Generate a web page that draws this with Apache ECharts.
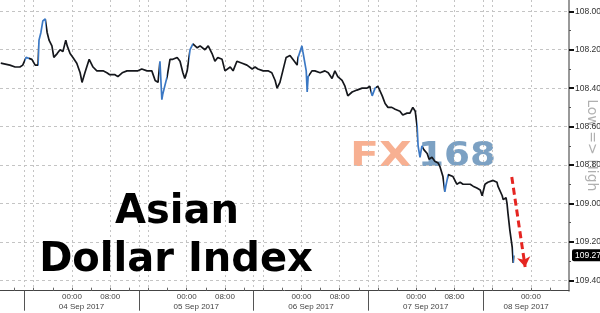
<!DOCTYPE html>
<html>
<head>
<meta charset="utf-8">
<script src="https://cdn.jsdelivr.net/npm/echarts@6/dist/echarts.min.js"></script>
<style>
html,body{margin:0;padding:0;background:#fff;}
#chart{width:600px;height:313px;}
</style>
</head>
<body>
<div id="chart"></div>
<script>
// Hours since 04 Sep 2017 00:00 (label time)
const hours = [-14.9,-13.0,-11.9,-10.9,-10.3,-9.6,-9.2,-8.4,-8.2,-7.7,-7.1,-6.9,-6.5,-6.1,-5.6,-5.2,-4.8,-4.2,-3.8,-3.1,-2.5,-1.9,-1.3,-1.0,-0.4,0.2,1.0,1.7,2.1,2.7,3.6,4.4,5.2,5.9,6.5,7.3,7.9,9.0,9.6,10.5,11.5,12.8,13.8,14.6,15.7,16.7,17.4,18.0,18.4,18.8,19.0,19.9,20.5,21.1,22.0,22.6,23.2,23.6,24.1,24.7,25.3,26.2,26.8,27.8,28.5,29.3,29.9,30.5,31.4,32.0,33.1,33.7,34.5,35.6,36.6,37.7,38.3,38.9,40.0,41.0,41.8,42.5,42.9,43.5,44.1,44.8,45.6,46.2,47.1,47.3,48.1,48.3,49.0,49.2,49.4,50.2,50.8,51.9,52.9,53.6,54.4,55.0,55.6,56.5,57.1,57.7,58.6,59.6,60.7,61.7,62.3,62.8,63.4,64.0,64.9,65.5,66.1,66.9,67.6,68.6,69.2,70.1,70.7,71.3,71.8,72.2,72.4,72.8,73.2,73.6,74.3,74.7,75.3,75.9,76.6,77.0,77.6,78.0,78.2,78.7,79.1,79.7,80.5,81.2,81.8,82.6,83.3,83.9,84.7,85.4,85.8,86.0,86.4,87.0,88.1,88.9,89.1,90.0,90.2,90.8,91.0,91.2,91.6,92.1,92.3,92.4];
const indexValues = [108.27,108.28,108.29,108.29,108.28,108.24,108.23,108.25,108.26,108.28,108.28,108.15,108.11,108.05,108.04,108.11,108.15,108.18,108.24,108.22,108.20,108.21,108.15,108.18,108.22,108.24,108.27,108.32,108.37,108.32,108.25,108.29,108.31,108.31,108.31,108.32,108.33,108.33,108.34,108.32,108.31,108.31,108.31,108.30,108.31,108.31,108.36,108.37,108.26,108.46,108.43,108.34,108.25,108.25,108.24,108.26,108.32,108.35,108.31,108.20,108.17,108.19,108.18,108.20,108.18,108.22,108.26,108.24,108.25,108.31,108.29,108.31,108.26,108.27,108.28,108.30,108.29,108.30,108.31,108.31,108.32,108.36,108.40,108.37,108.31,108.24,108.23,108.25,108.28,108.24,108.18,108.21,108.31,108.42,108.34,108.31,108.31,108.32,108.31,108.32,108.35,108.31,108.34,108.36,108.39,108.44,108.42,108.41,108.40,108.40,108.39,108.44,108.40,108.39,108.44,108.48,108.50,108.50,108.51,108.52,108.54,108.53,108.53,108.50,108.52,108.60,108.70,108.76,108.70,108.72,108.74,108.77,108.76,108.78,108.79,108.81,108.86,108.94,108.91,108.85,108.84,108.86,108.90,108.89,108.90,108.90,108.90,108.91,108.92,108.93,108.96,108.97,108.90,108.89,108.88,108.89,108.91,108.96,108.98,108.97,109.00,109.05,109.14,109.23,109.31,109.27];

// hour ranges where the trace is drawn blue
const blueRanges = [[-9.8,-9.0],[-7.2,-5.5],[18.3,19.9],[24.5,25.4],[47.2,49.5],[62.6,63.5],[72.2,73.4],[77.8,78.6],[92.2,92.5]];

const yTicks = [108.00,108.20,108.40,108.60,108.80,109.00,109.20,109.40];
const yMinorTicks = [108.10,108.30,108.50,108.70,108.90,109.10,109.30];
const timeTickHours = [0,8,24,32,48,56,72,80,96];
const timeTickLabels = ['00:00','08:00','00:00','08:00','00:00','08:00','00:00','08:00','00:00'];
const gridHours = [-8,0,8,16,24,32,40,48,56,64,72,80,88,96];
const daySeparators = [-10,14,38,62,86];
const dayCenters = [2,26,50,74,95];
const dayLabels = ['04 Sep 2017','05 Sep 2017','06 Sep 2017','07 Sep 2017','08 Sep 2017'];
const minorHours = [-12,-8,-4,0,4,8,12,16,20,24,28,32,36,40,44,48,52,56,60,64,68,72,76,80,84,88,92,96,100];
const lastValue = 109.27;
const arrowFrom = [92.0, 108.862];
const arrowTo = [94.8, 109.331];
const titleLines = ['Asian', 'Dollar Index'];
const axisName = 'Low => High';

function lookup(keys, labels, v) {
  for (let i = 0; i < keys.length; i++) if (Math.abs(keys[i] - v) < 1e-6) return labels[i];
  return '';
}

const X_MIN = -15.06, X_MAX = 103.97;
const labelFont = 'Liberation Sans';
const LINE_COLOR = '#15171c', BLUE = '#3b78c4';

const chart = echarts.init(document.getElementById('chart'), null, {renderer: 'canvas'});
const seriesData = hours.map((h, i) => [h, indexValues[i]]);

const option = {
  animation: false,
  backgroundColor: '#ffffff',
  grid: {left: 0, right: 31, top: 0, bottom: 22.3, containLabel: false, outerBoundsMode: 'none'},
  visualMap: {
    show: false, type: 'piecewise', dimension: 0, seriesIndex: 0,
    pieces: blueRanges.map(r => ({gte: r[0], lte: r[1], color: BLUE})),
    outOfRange: {color: LINE_COLOR}
  },
  xAxis: [
    {
      type: 'value', min: X_MIN, max: X_MAX, position: 'bottom',
      axisLine: {show: true, onZero: false, lineStyle: {color: '#444', width: 1}},
      axisTick: {show: false, customValues: gridHours.concat(daySeparators)},
      splitLine: {show: true, lineStyle: {color: '#c4c4c4', type: [2, 3], width: 1}},
      axisLabel: {
        show: true, customValues: timeTickHours, margin: 2,
        fontFamily: labelFont, fontSize: 8, color: '#444',
        formatter: v => lookup(timeTickHours, timeTickLabels, v)
      }
    },
    {
      type: 'value', min: X_MIN, max: X_MAX, position: 'bottom', offset: 0,
      axisLine: {show: false, onZero: false}, axisTick: {show: false, customValues: dayCenters}, splitLine: {show: false},
      axisLabel: {
        show: true, customValues: dayCenters, margin: 12,
        fontFamily: labelFont, fontSize: 8, color: '#444',
        formatter: v => lookup(dayCenters, dayLabels, v)
      }
    },
    {
      type: 'value', min: X_MIN, max: X_MAX, position: 'bottom', offset: 0,
      axisLine: {show: false, onZero: false}, splitLine: {show: false}, axisLabel: {show: false},
      axisTick: {show: true, customValues: daySeparators, length: 20, inside: false, lineStyle: {color: '#555', width: 1}}
    },
    {
      type: 'value', min: X_MIN, max: X_MAX, position: 'bottom', offset: 0,
      axisLine: {show: false, onZero: false}, splitLine: {show: false}, axisLabel: {show: false},
      axisTick: {show: true, customValues: minorHours, length: 3, inside: true, lineStyle: {color: '#666', width: 1}}
    }
  ],
  yAxis: [
    {
      type: 'value', inverse: true, min: 107.9412, max: 109.4541, position: 'right',
      name: axisName, nameLocation: 'middle', nameRotate: -90, nameGap: 16, nameMoveOverlap: false,
      nameTextStyle: {fontFamily: 'DejaVu Sans', fontSize: 14, color: '#b0b0b0'},
      axisLine: {show: true, onZero: false, lineStyle: {color: '#999', width: 2}},
      axisTick: {show: true, customValues: yTicks, length: 5, inside: false, lineStyle: {color: '#111', width: 2}},
      splitLine: {show: true, lineStyle: {color: '#c4c4c4', type: [3, 3], width: 1}},
      axisLabel: {
        show: true, customValues: yTicks, margin: 6,
        fontFamily: labelFont, fontSize: 8.5, color: '#333',
        formatter: v => v.toFixed(2)
      }
    },
    {
      type: 'value', inverse: true, min: 107.9412, max: 109.4541, position: 'right', offset: 0,
      axisLine: {show: false, onZero: false}, splitLine: {show: false}, axisLabel: {show: false},
      axisTick: {show: true, customValues: yMinorTicks, length: 2, inside: false, lineStyle: {color: '#555', width: 1}}
    }
  ],
  graphic: [
    {type: 'text', left: 350, top: 140, z: 0, scaleX: 1.25,
     style: {text: 'FX', fontFamily: 'DejaVu Sans', fontWeight: 'bold', fontSize: 34, fill: 'rgba(244,150,110,0.75)'}},
    {type: 'text', left: 418, top: 140, z: 0, scaleX: 1.1,
     style: {text: '168', fontFamily: 'DejaVu Sans', fontWeight: 'bold', fontSize: 34, fill: 'rgba(80,130,175,0.75)'}},
    {type: 'text', x: 177, y: 213, z: 10,
     style: {text: titleLines[0], fontFamily: 'DejaVu Sans', fontWeight: 'bold', fontSize: 40, fill: '#000', align: 'center', verticalAlign: 'middle'}},
    {type: 'text', x: 176, y: 261, z: 10,
     style: {text: titleLines[1], fontFamily: 'DejaVu Sans', fontWeight: 'bold', fontSize: 40, fill: '#000', align: 'center', verticalAlign: 'middle'}}
  ],
  series: [
    {
      type: 'line', xAxisIndex: 0, yAxisIndex: 0, data: seriesData,
      showSymbol: false, symbol: 'none', z: 5, clip: false,
      lineStyle: {width: 1.7}
    },
    {
      type: 'line', xAxisIndex: 0, yAxisIndex: 0, data: [], z: 6, clip: false,
      markLine: {
        silent: true, symbolSize: 10,
        lineStyle: {color: '#e52521', width: 3, type: [7, 4]},
        label: {show: false},
        data: [[{coord: arrowFrom, symbol: 'none'}, {coord: arrowTo, symbol: 'arrow'}]]
      }
    },
    {
      type: 'line', xAxisIndex: 0, yAxisIndex: 0, data: [], z: 7, clip: false,
      markLine: {
        silent: true, symbol: ['none', 'none'],
        lineStyle: {color: 'rgba(0,0,0,0)', width: 0},
        label: {
          show: true, position: 'end', distance: 3,
          formatter: () => lastValue.toFixed(2),
          backgroundColor: '#000', color: '#fff', padding: [2, 2, 1, 3], borderRadius: 2,
          fontFamily: labelFont, fontSize: 8.5
        },
        data: [{yAxis: lastValue}]
      }
    }
  ]
};
chart.setOption(option);
</script>
</body>
</html>
